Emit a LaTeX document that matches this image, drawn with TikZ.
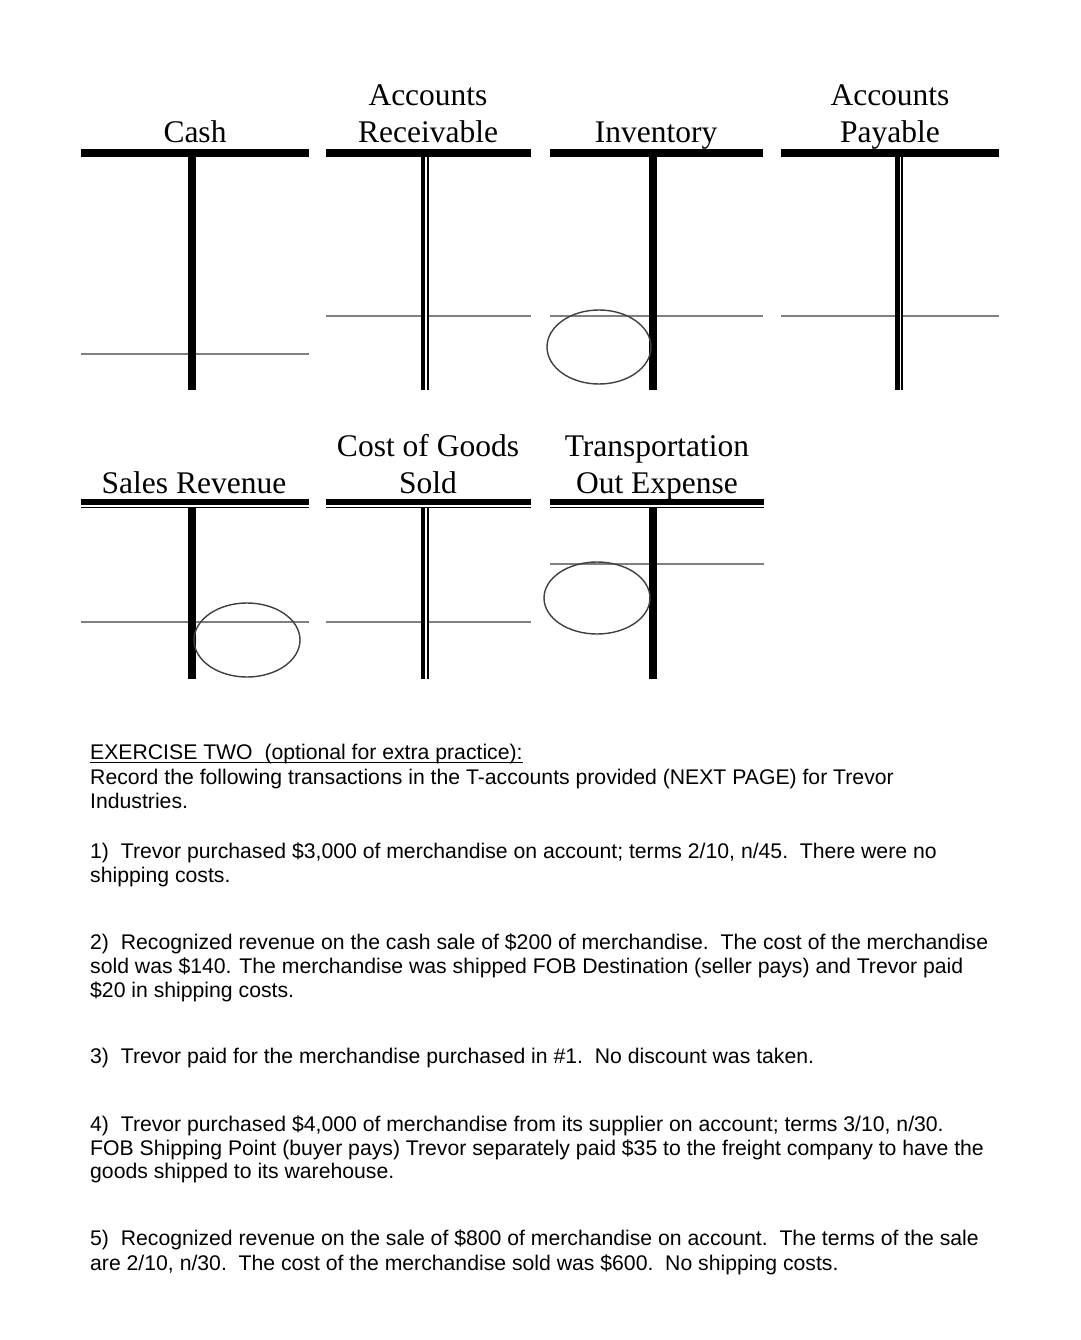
\documentclass[tikz,border=0pt]{standalone}
\usepackage{fontspec}
\setmainfont{Liberation Serif}
\newfontfamily\bodyfont{Liberation Sans}
\begin{document}
\begin{tikzpicture}[x=1pt,y=-1pt,
  ttl/.style={font=\fontsize{31.5}{36.7}\selectfont, inner sep=0pt, anchor=base},
  body/.style={font=\bodyfont\fontsize{21.2}{24}\selectfont, inner sep=0pt, anchor=base west},
  topbar/.style={line width=8pt},
  vbar/.style={line width=8pt},
  thinbar/.style={line width=1.5pt},
  gap/.style={white, line width=1.2pt},
  rule/.style={draw=black!50, line width=1.5pt},
  circ/.style={draw=black!75, line width=1.4pt}
]
\useasboundingbox[fill=white] (0,0) rectangle (1080,1340);

% ---------- titles ----------
\node[ttl] (cash) at (195,143) {Cash};
\node[ttl] (ar1) at (428,106) {Accounts};
\node[ttl] (ar2) at (428,143) {Receivable};
\node[ttl] (inv) at (656,143) {Inventory};
\node[ttl] (ap1) at (890,106) {Accounts};
\node[ttl] (ap2) at (890,143) {Payable};
\node[ttl] (sr) at (194,493) {Sales Revenue};
\node[ttl] (cg1) at (428,456) {Cost of Goods};
\node[ttl] (cg2) at (428,493) {Sold};
\node[ttl] (tr1) at (657,456) {Transportation};
\node[ttl] (tr2) at (657,493) {Out Expense};

% ---------- top row T-accounts ----------
% Cash
\draw[rule] (81,354) -- (309,354);
\draw[topbar] (81,153) -- (309,153);
\draw[vbar] (192,157) -- (192,390);
% Accounts Receivable
\draw[rule] (326,316) -- (531,316);
\draw[topbar] (326,153) -- (531,153);
\draw[vbar] (424.5,157) -- (424.5,390);
\draw[gap] (426,157) -- (426,390);
% Inventory
\draw[rule] (550,316) -- (763,316);
\draw[topbar] (550,153) -- (763,153);
\draw[vbar] (653,157) -- (653,390);
\draw[circ] (599,347) ellipse [x radius=52, y radius=37];
% Accounts Payable
\draw[rule] (781,316) -- (999,316);
\draw[topbar] (781,153) -- (999,153);
\draw[vbar] (899,157) -- (899,390);
\draw[gap] (900.5,157) -- (900.5,390);

% ---------- bottom row T-accounts ----------
% Sales Revenue
\draw[rule] (81,622) -- (309,622);
\draw[line width=6pt] (81,502.3) -- (309,502.3);
\draw[thinbar] (81,507.5) -- (309,507.5);
\draw[vbar] (192,508) -- (192,679);
\draw[circ] (247,640) ellipse [x radius=53, y radius=37];
% Cost of Goods Sold
\draw[rule] (326,622) -- (531,622);
\draw[line width=6pt] (326,502.3) -- (531,502.3);
\draw[thinbar] (326,507.5) -- (531,507.5);
\draw[vbar] (424.5,508) -- (424.5,679);
\draw[gap] (426,508) -- (426,679);
% Transportation Out Expense
\draw[rule] (550,564) -- (764,564);
\draw[line width=6pt] (550,502.3) -- (764,502.3);
\draw[thinbar] (550,507.5) -- (764,507.5);
\draw[vbar] (653,508) -- (653,679);
\draw[circ] (597,598) ellipse [x radius=53, y radius=36];

% ---------- exercise text ----------
\node[body] (h) at (90,759) {EXERCISE TWO\ \ (optional for extra practice):};
\draw[line width=1.5pt] ([yshift=-3.5pt]h.base west) -- ([yshift=-3.5pt]h.base east);
\node[body] (l2) at (90,784) {Record the following transactions in the T-accounts provided (NEXT PAGE) for Trevor};
\node[body] (l3) at (90,808) {Industries.};

\node[body] (a1) at (90,858) {1)\ \ Trevor purchased \$3,000 of merchandise on account; terms 2/10, n/45.\ \ There were no};
\node[body] (a2) at (90,882) {shipping costs.};

\node[body] (b1) at (90,949) {2)\ \ Recognized revenue on the cash sale of \$200 of merchandise.\ \ The cost of the merchandise};
\node[body] (b2) at (90,973) {sold was \$140. The merchandise was shipped FOB Destination (seller pays) and Trevor paid};
\node[body] (b3) at (90,997) {\$20 in shipping costs.};

\node[body] (c1) at (90,1063) {3)\ \ Trevor paid for the merchandise purchased in \#1.\ \ No discount was taken.};

\node[body] (d1) at (90,1131) {4)\ \ Trevor purchased \$4,000 of merchandise from its supplier on account; terms 3/10, n/30.};
\node[body] (d2) at (90,1155) {FOB Shipping Point (buyer pays) Trevor separately paid \$35 to the freight company to have the};
\node[body] (d3) at (90,1178) {goods shipped to its warehouse.};

\node[body] (e1) at (90,1245) {5)\ \ Recognized revenue on the sale of \$800 of merchandise on account.\ \ The terms of the sale};
\node[body] (e2) at (90,1270) {are 2/10, n/30.\ \ The cost of the merchandise sold was \$600.\ \ No shipping costs.};
\end{tikzpicture}
\end{document}
